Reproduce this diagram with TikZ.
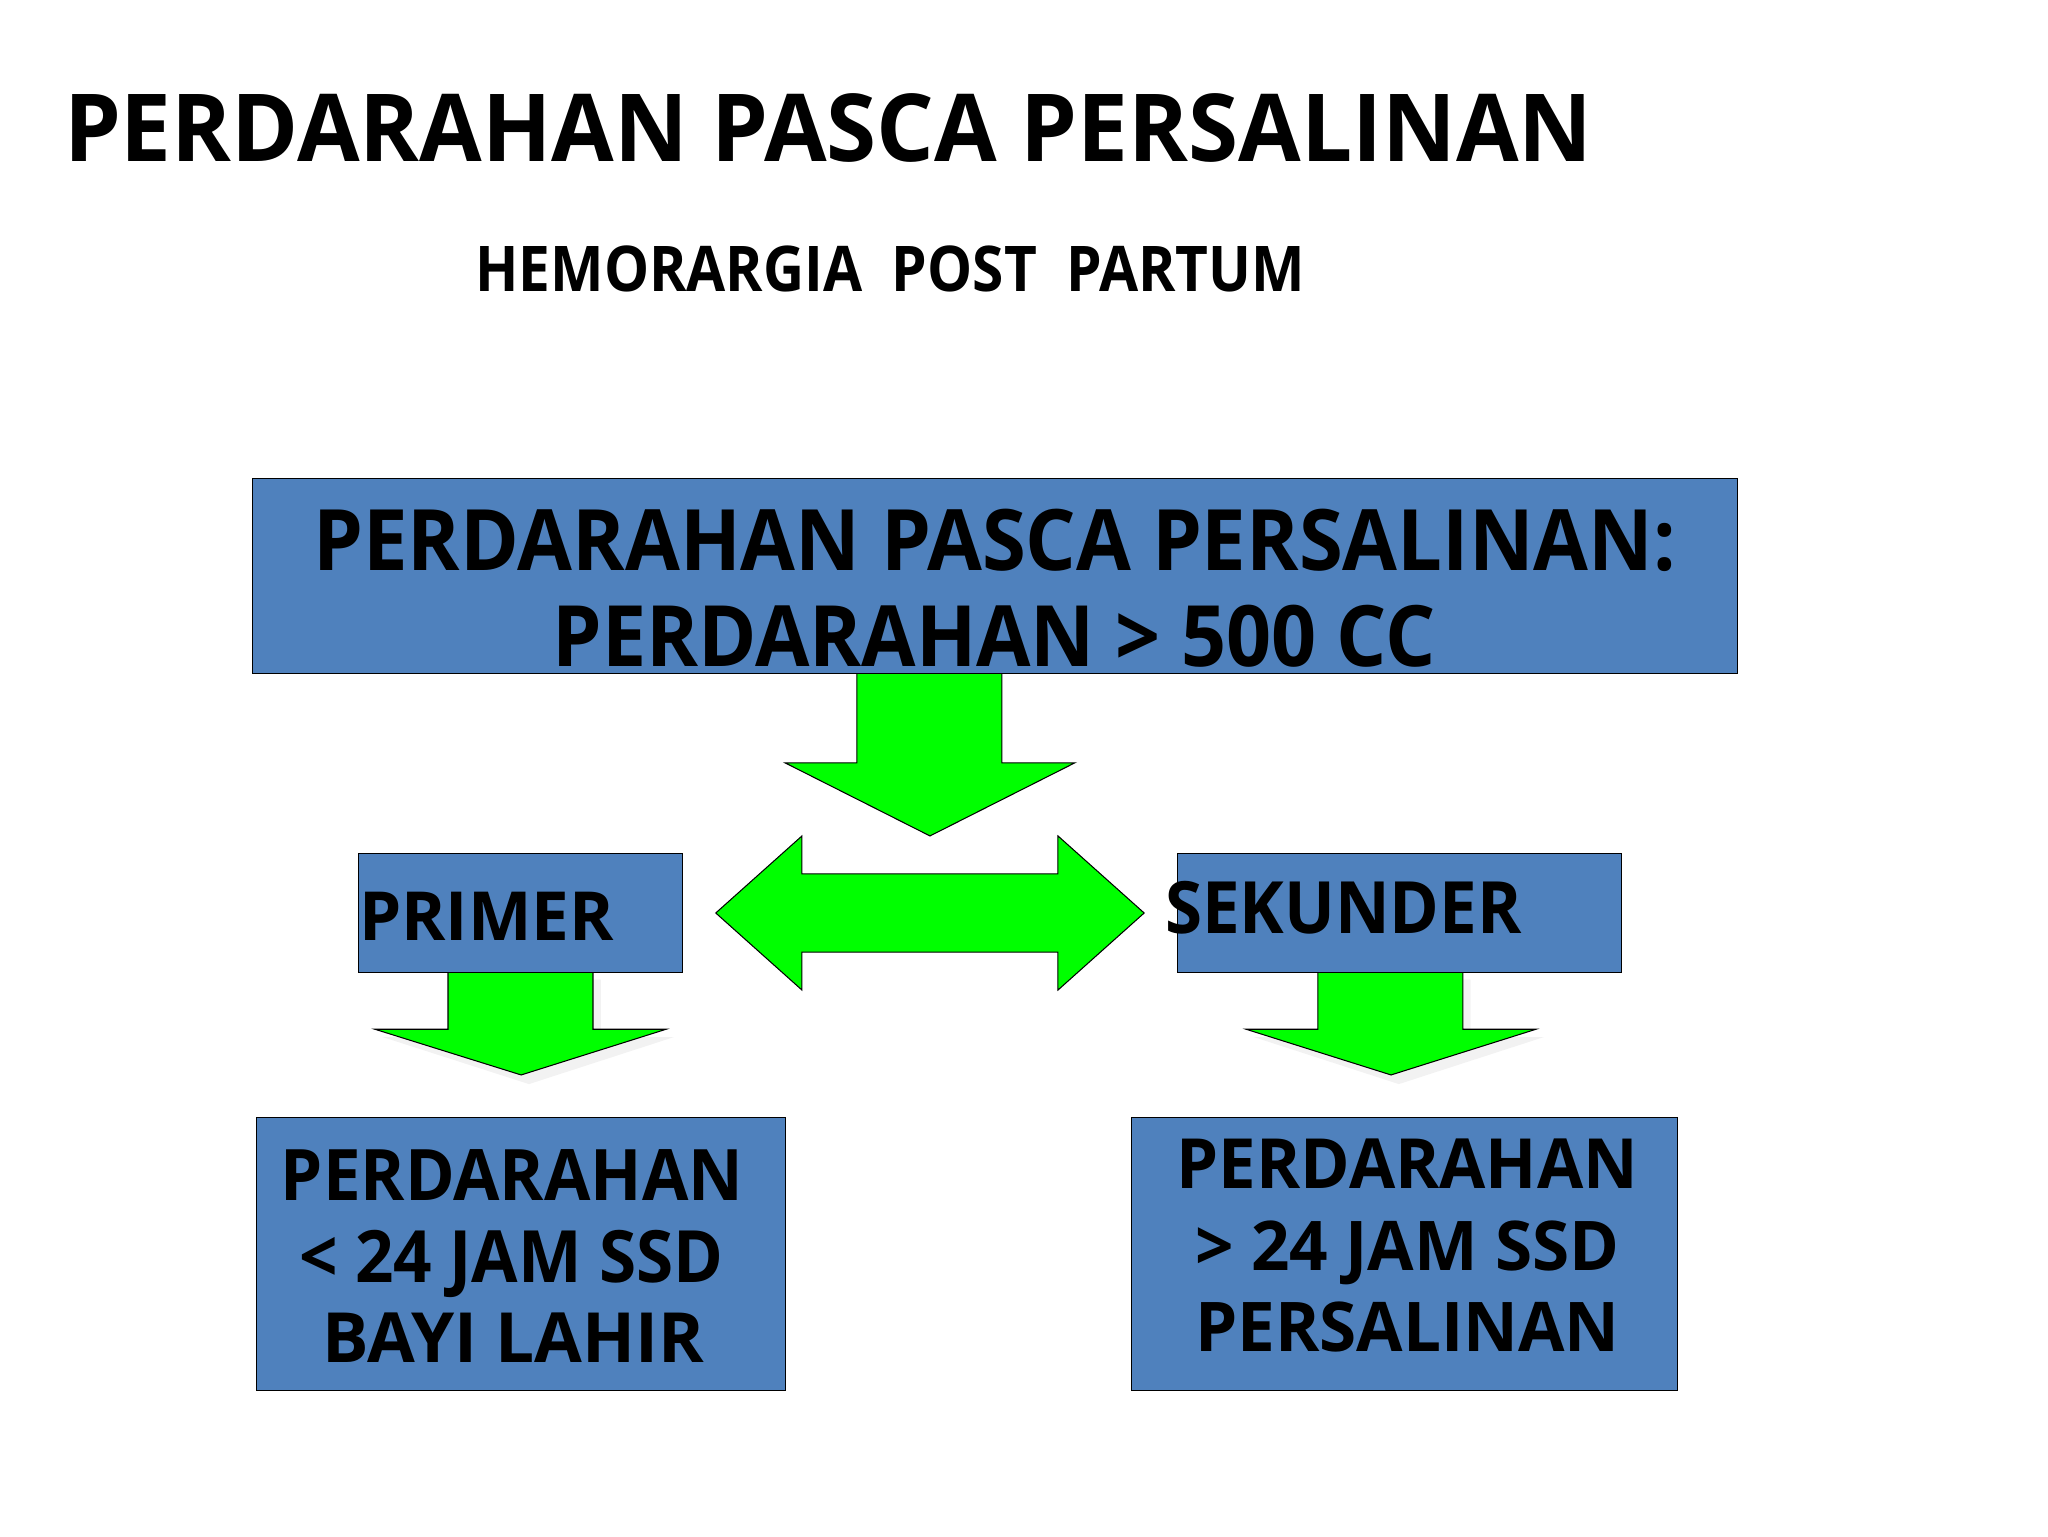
\documentclass[tikz,border=0pt]{standalone}
\usepackage{fontspec}
\setmainfont{Open Sans}
\usepackage{graphicx}
\definecolor{boxblue}{RGB}{79,129,189}
\definecolor{arrowgreen}{RGB}{0,255,0}
\newcommand{\fittext}[3]{\resizebox{#1pt}{#2pt}{\bfseries #3}}
\begin{document}
\begin{tikzpicture}[x=1pt,y=-1pt,
  txt/.style={inner sep=0pt, outer sep=0pt, anchor=base west},
  bluebox/.style={draw=black, fill=boxblue, line width=1pt, anchor=north west, inner sep=0pt},
  blockarrow/.style={draw=black, fill=arrowgreen, line width=0.8pt, line join=miter},
  arrowshadow/.style={fill=black, fill opacity=0.05, draw=none}]
\useasboundingbox[fill=white] (0,0) rectangle (1568,1176);

% titles
\node[txt] (title) at (49,124) {\fittext{1170}{52}{PERDARAHAN PASCA PERSALINAN}};
\node[txt] (subtitle) at (364,223) {\fittext{635}{35}{HEMORARGIA\ \ POST\ \ PARTUM}};

% arrows (shadows first)
\fill[arrowshadow] (349,750) -- (460,750) -- (460,794) -- (516,794) -- (405,830) -- (293,794) -- (349,794) -- cycle;
\fill[arrowshadow] (1015,750) -- (1126,750) -- (1126,794) -- (1182,794) -- (1071,830) -- (960,794) -- (1015,794) -- cycle;

\draw[blockarrow] (656,515) -- (767,515) -- (767,584) -- (823,584) -- (712,640) -- (601,584) -- (656,584) -- cycle;
\draw[blockarrow] (548,699) -- (614,640) -- (614,669) -- (810,669) -- (810,640) -- (876,699) -- (810,758) -- (810,729) -- (614,729) -- (614,758) -- cycle;
\draw[blockarrow] (343,744) -- (454,744) -- (454,788) -- (510,788) -- (399,823) -- (287,788) -- (343,788) -- cycle;
\draw[blockarrow] (1009,744) -- (1120,744) -- (1120,788) -- (1176,788) -- (1065,823) -- (954,788) -- (1009,788) -- cycle;

% boxes
\node[bluebox, minimum width=1137pt, minimum height=149pt] (top) at (193,366) {};
\node[bluebox, minimum width=248pt, minimum height=91pt] (primer) at (274,653) {};
\node[bluebox, minimum width=340pt, minimum height=91pt] (sekunder) at (901,653) {};
\node[bluebox, minimum width=405pt, minimum height=209pt] (bl) at (196,855) {};
\node[bluebox, minimum width=418pt, minimum height=209pt] (br) at (866,855) {};

% box texts
\node[txt] (top1) at (240,437) {\fittext{1043}{47}{PERDARAHAN PASCA PERSALINAN:}};
\node[txt] (top2) at (423,510) {\fittext{676}{47}{PERDARAHAN > 500 CC}};
\node[txt] (primertxt) at (275,720) {\fittext{195}{37}{PRIMER}};
\node[txt] (sekundertxt) at (892,715) {\fittext{273}{40}{SEKUNDER}};
\node[txt] (bl1) at (215,919) {\fittext{354}{39}{PERDARAHAN}};
\node[txt] (bl2) at (229,982) {\fittext{325}{40}{< 24 JAM SSD}};
\node[txt] (bl3) at (247,1043) {\fittext{292}{38}{BAYI LAHIR}};
\node[txt] (br1) at (901,910) {\fittext{353}{38}{PERDARAHAN}};
\node[txt] (br2) at (915,973) {\fittext{325}{38}{> 24 JAM SSD}};
\node[txt] (br3) at (915,1035) {\fittext{325}{38}{PERSALINAN}};
\end{tikzpicture}
\end{document}
